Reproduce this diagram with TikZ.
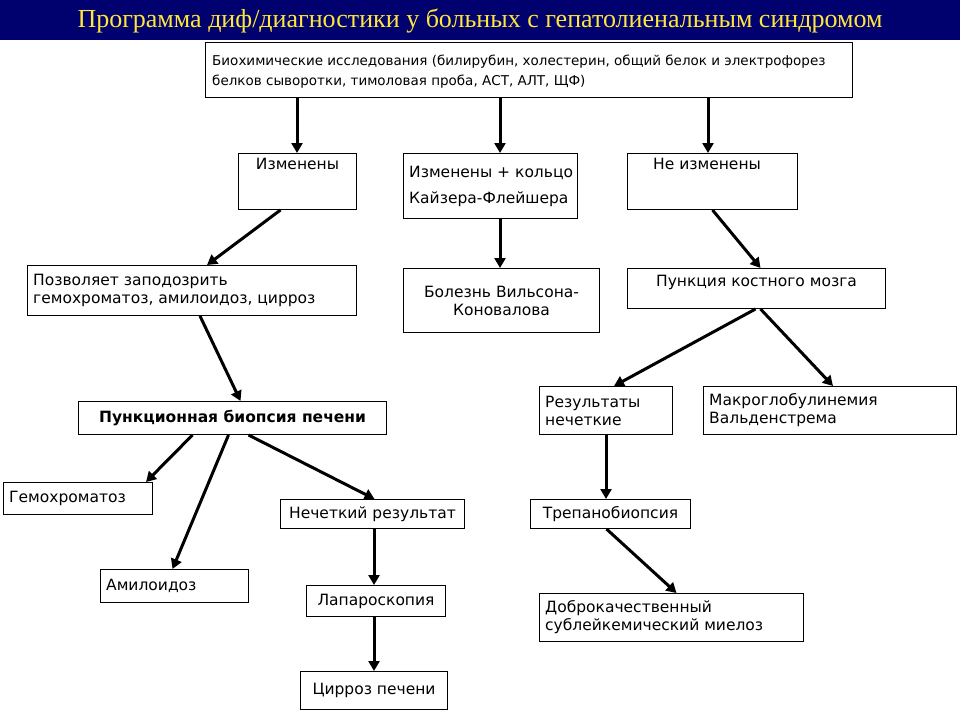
\documentclass[tikz,border=0pt]{standalone}
\usepackage{fontspec}
\setmainfont{DejaVu Sans}
\newfontfamily\titlefont{Liberation Serif}
\usetikzlibrary{arrows.meta}
\definecolor{titlebg}{RGB}{0,0,110}
\definecolor{titlefg}{RGB}{255,230,60}
\begin{document}
\begin{tikzpicture}[x=1pt,y=-1pt,
  bx/.style={draw=black,line width=1pt,anchor=north west,inner sep=0pt,font=\fontsize{15.5}{18}\selectfont},
  ar/.style={line width=3pt,-{Triangle[length=10pt,width=11pt]}}]
\useasboundingbox (0,0) rectangle (960,720);
\fill[white] (0,0) rectangle (960,720);
\fill[titlebg] (0,0) rectangle (960,40);
\node[text=titlefg,font=\titlefont\fontsize{26}{28}\selectfont] (title) at (480,21) {Программа диф/диагностики у больных с гепатолиенальным синдромом};
\newcommand{\bxx}[6]{\node[bx,minimum width=#4-#2,minimum height=#5-#3] (#1) at (#2,#3) {};
  \node[font=\fontsize{15.5}{18}\selectfont,align=left,anchor=west,inner sep=0pt] at ([xshift=6]#1.west) {#6};}
\newcommand{\bxc}[6]{\node[bx,minimum width=#4-#2,minimum height=#5-#3,align=center] (#1) at (#2,#3) {#6};}
\node[bx,minimum width=647,minimum height=55] (bio) at (205,42) {};
\node[font=\fontsize{13.5}{20}\selectfont,align=left,anchor=west,inner sep=0pt] at ([xshift=7,yshift=-2]bio.west) {Биохимические исследования (билирубин, холестерин, общий белок и электрофорез\\белков сыворотки, тимоловая проба, АСТ, АЛТ, ЩФ)};
\bxc{izm}{238}{153}{356}{209}{Изменены\\[18pt]}
\bxx{kol}{403}{153}{577}{218}{Изменены + кольцо\\[8pt]Кайзера-Флейшера}
\bxx{neizm}{627}{153}{797}{209}{\hspace{20pt}Не изменены\\[18pt]}
\bxx{pozv}{27}{265}{356}{315}{Позволяет заподозрить\\гемохроматоз, амилоидоз, цирроз}
\bxc{wils}{403}{268}{599}{332}{Болезнь Вильсона-\\Коновалова}
\bxc{punk}{627}{268}{885}{308}{Пункция костного мозга\\[-2pt]}
\bxc{biop}{78}{401}{386}{434}{\bfseries Пункционная биопсия печени}
\bxx{rez}{539}{386}{672}{434}{Результаты\\нечеткие}
\bxx{makro}{703}{386}{956}{434}{Макроглобулинемия\\Вальденстрема}
\bxx{gem}{3}{482}{152}{514}{Гемохроматоз}
\bxc{nech}{280}{499}{464}{528}{Нечеткий результат}
\bxc{trep}{530}{499}{690}{528}{Трепанобиопсия}
\bxx{amil}{100}{569}{248}{602}{Амилоидоз}
\bxc{lap}{306}{585}{445}{616}{Лапароскопия}
\bxx{dobr}{539}{593}{803}{641}{Доброкачественный\\сублейкемический миелоз}
\bxc{cirr}{300}{671}{447}{709}{Цирроз печени}
\draw[ar] (bio.south -| 297,0) -- (izm.north -| 297,0);
\draw[ar] (bio.south -| 500,0) -- (kol.north -| 500,0);
\draw[ar] (bio.south -| 708,0) -- (neizm.north -| 708,0);
\draw[ar] ([xshift=-17]izm.south) -- ([xshift=15]pozv.north);
\draw[ar] (kol.south -| 500,0) -- (wils.north -| 500,0);
\draw[ar] ([xshift=0]neizm.south) -- ([xshift=4]punk.north);
\draw[ar] ([xshift=8]pozv.south) -- ([xshift=8]biop.north);
\draw[ar] ([xshift=-1]punk.south) -- ([xshift=8]rez.north);
\draw[ar] ([xshift=4]punk.south) -- ([xshift=3]makro.north);
\draw[ar] ([xshift=-40]biop.south) -- ([xshift=68]gem.north);
\draw[ar] ([xshift=-4]biop.south) -- ([xshift=-2]amil.north);
\draw[ar] ([xshift=16]biop.south) -- ([xshift=2]nech.north);
\draw[ar] (rez.south -| 606,0) -- (trep.north -| 606,0);
\draw[ar] (nech.south -| 374,0) -- (lap.north -| 374,0);
\draw[ar] ([xshift=-4]trep.south) -- ([xshift=5]dobr.north);
\draw[ar] (lap.south -| 374,0) -- (cirr.north -| 374,0);
\end{tikzpicture}
\end{document}
